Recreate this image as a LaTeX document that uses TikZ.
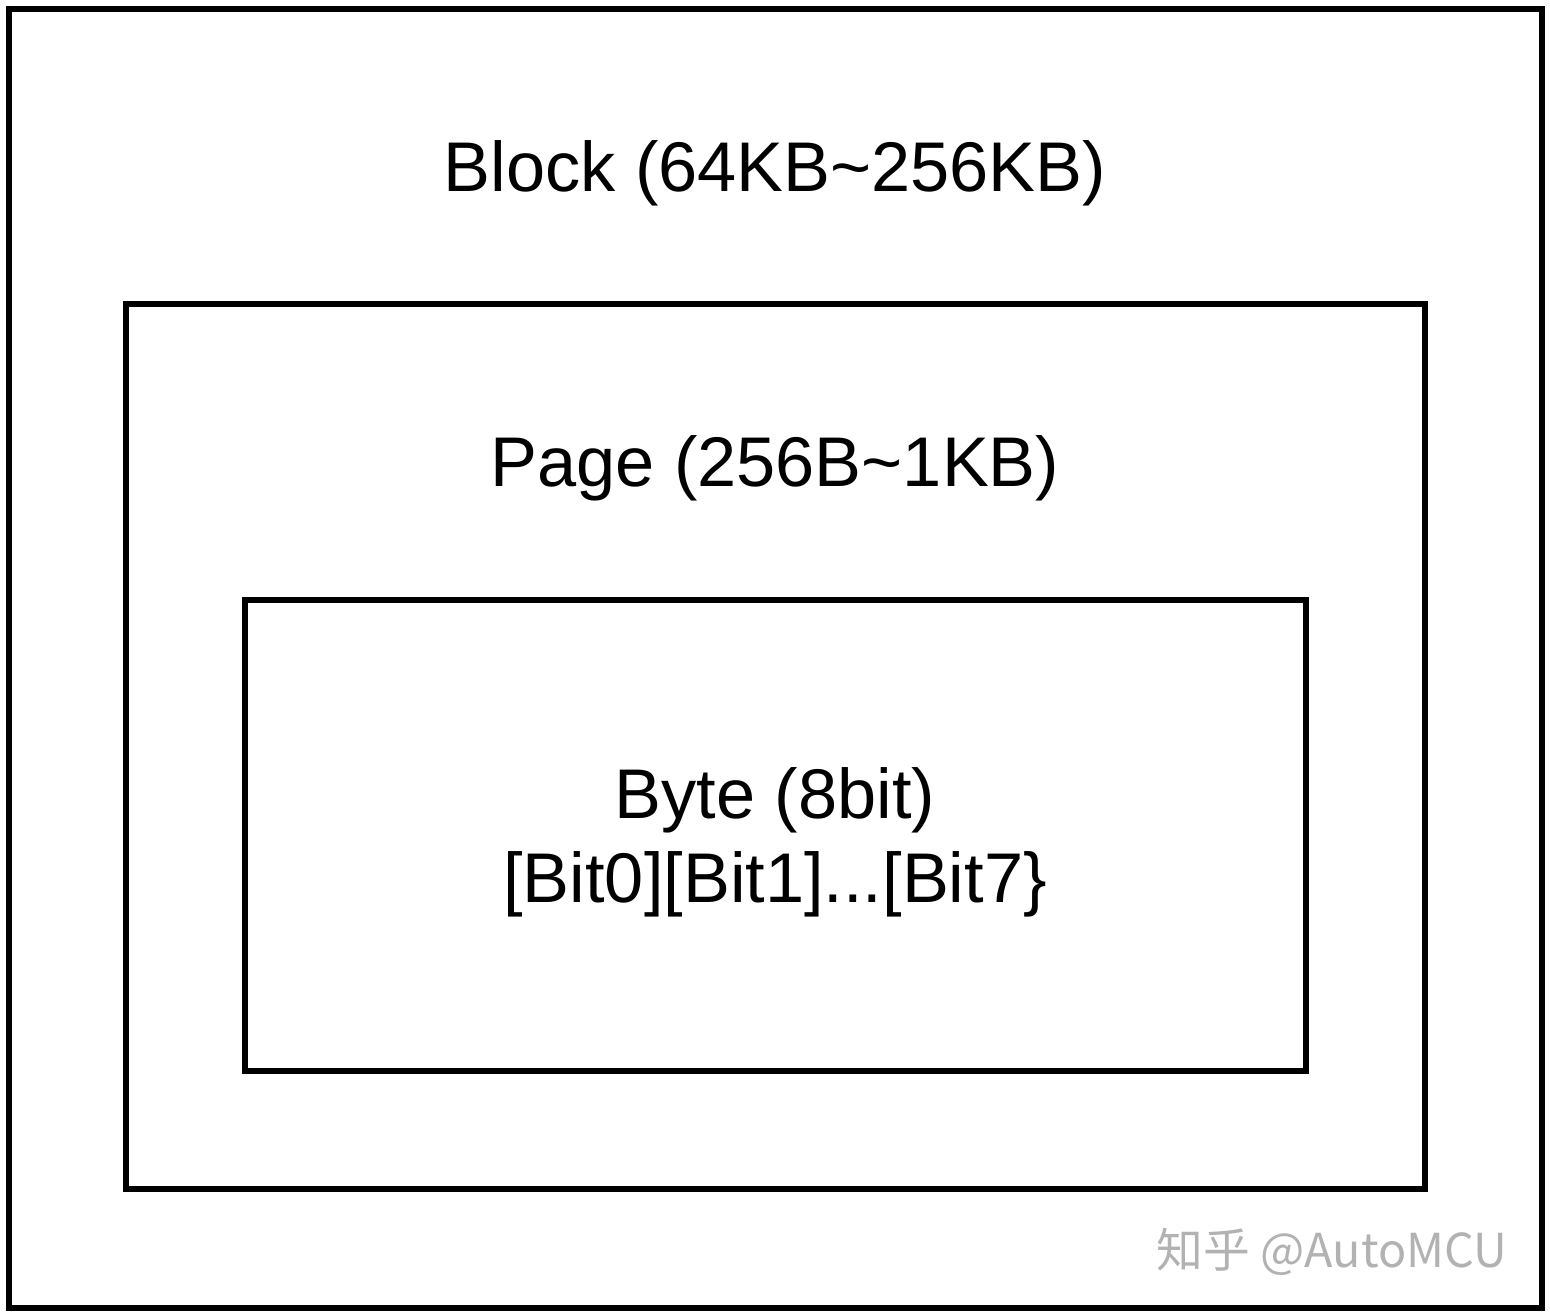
\documentclass[tikz,border=0pt]{standalone}
\usepackage{fontspec}
\setmainfont{Liberation Sans}
\newfontfamily\cjkfont{Noto Sans CJK SC}
\usetikzlibrary{positioning}
\tikzset{
    box/.style={draw, line width=1.6pt},
    label text/.style={anchor=base, font=\fontsize{20}{24}\selectfont, inner sep=0pt},
    mark text/.style={anchor=base east, font=\cjkfont\fontsize{13.3}{16}\selectfont, text=black!30, inner sep=0pt}
}
\begin{document}
\begin{tikzpicture}[x=0.01cm, y=-0.01cm]
        \useasboundingbox (0,0) rectangle (1550,1316);

        \draw[box] (9,9) rectangle (1542,1308);      % block
        \draw[box] (126,304) rectangle (1425,1189);  % page
        \draw[box] (245,600) rectangle (1306,1071);  % byte

        \draw (775,192) node[label text](blocklbl){Block (64KB\textasciitilde 256KB)};
        \draw (775,487) node[label text](pagelbl){Page (256B\textasciitilde 1KB)};
        \draw (775,903) node[label text, align=center](bytelbl){Byte (8bit)\\{}[Bit0][Bit1]...[Bit7\}};

        \draw (1508,1268) node[mark text](mark){知乎 @AutoMCU};
    \end{tikzpicture}
\end{document}
